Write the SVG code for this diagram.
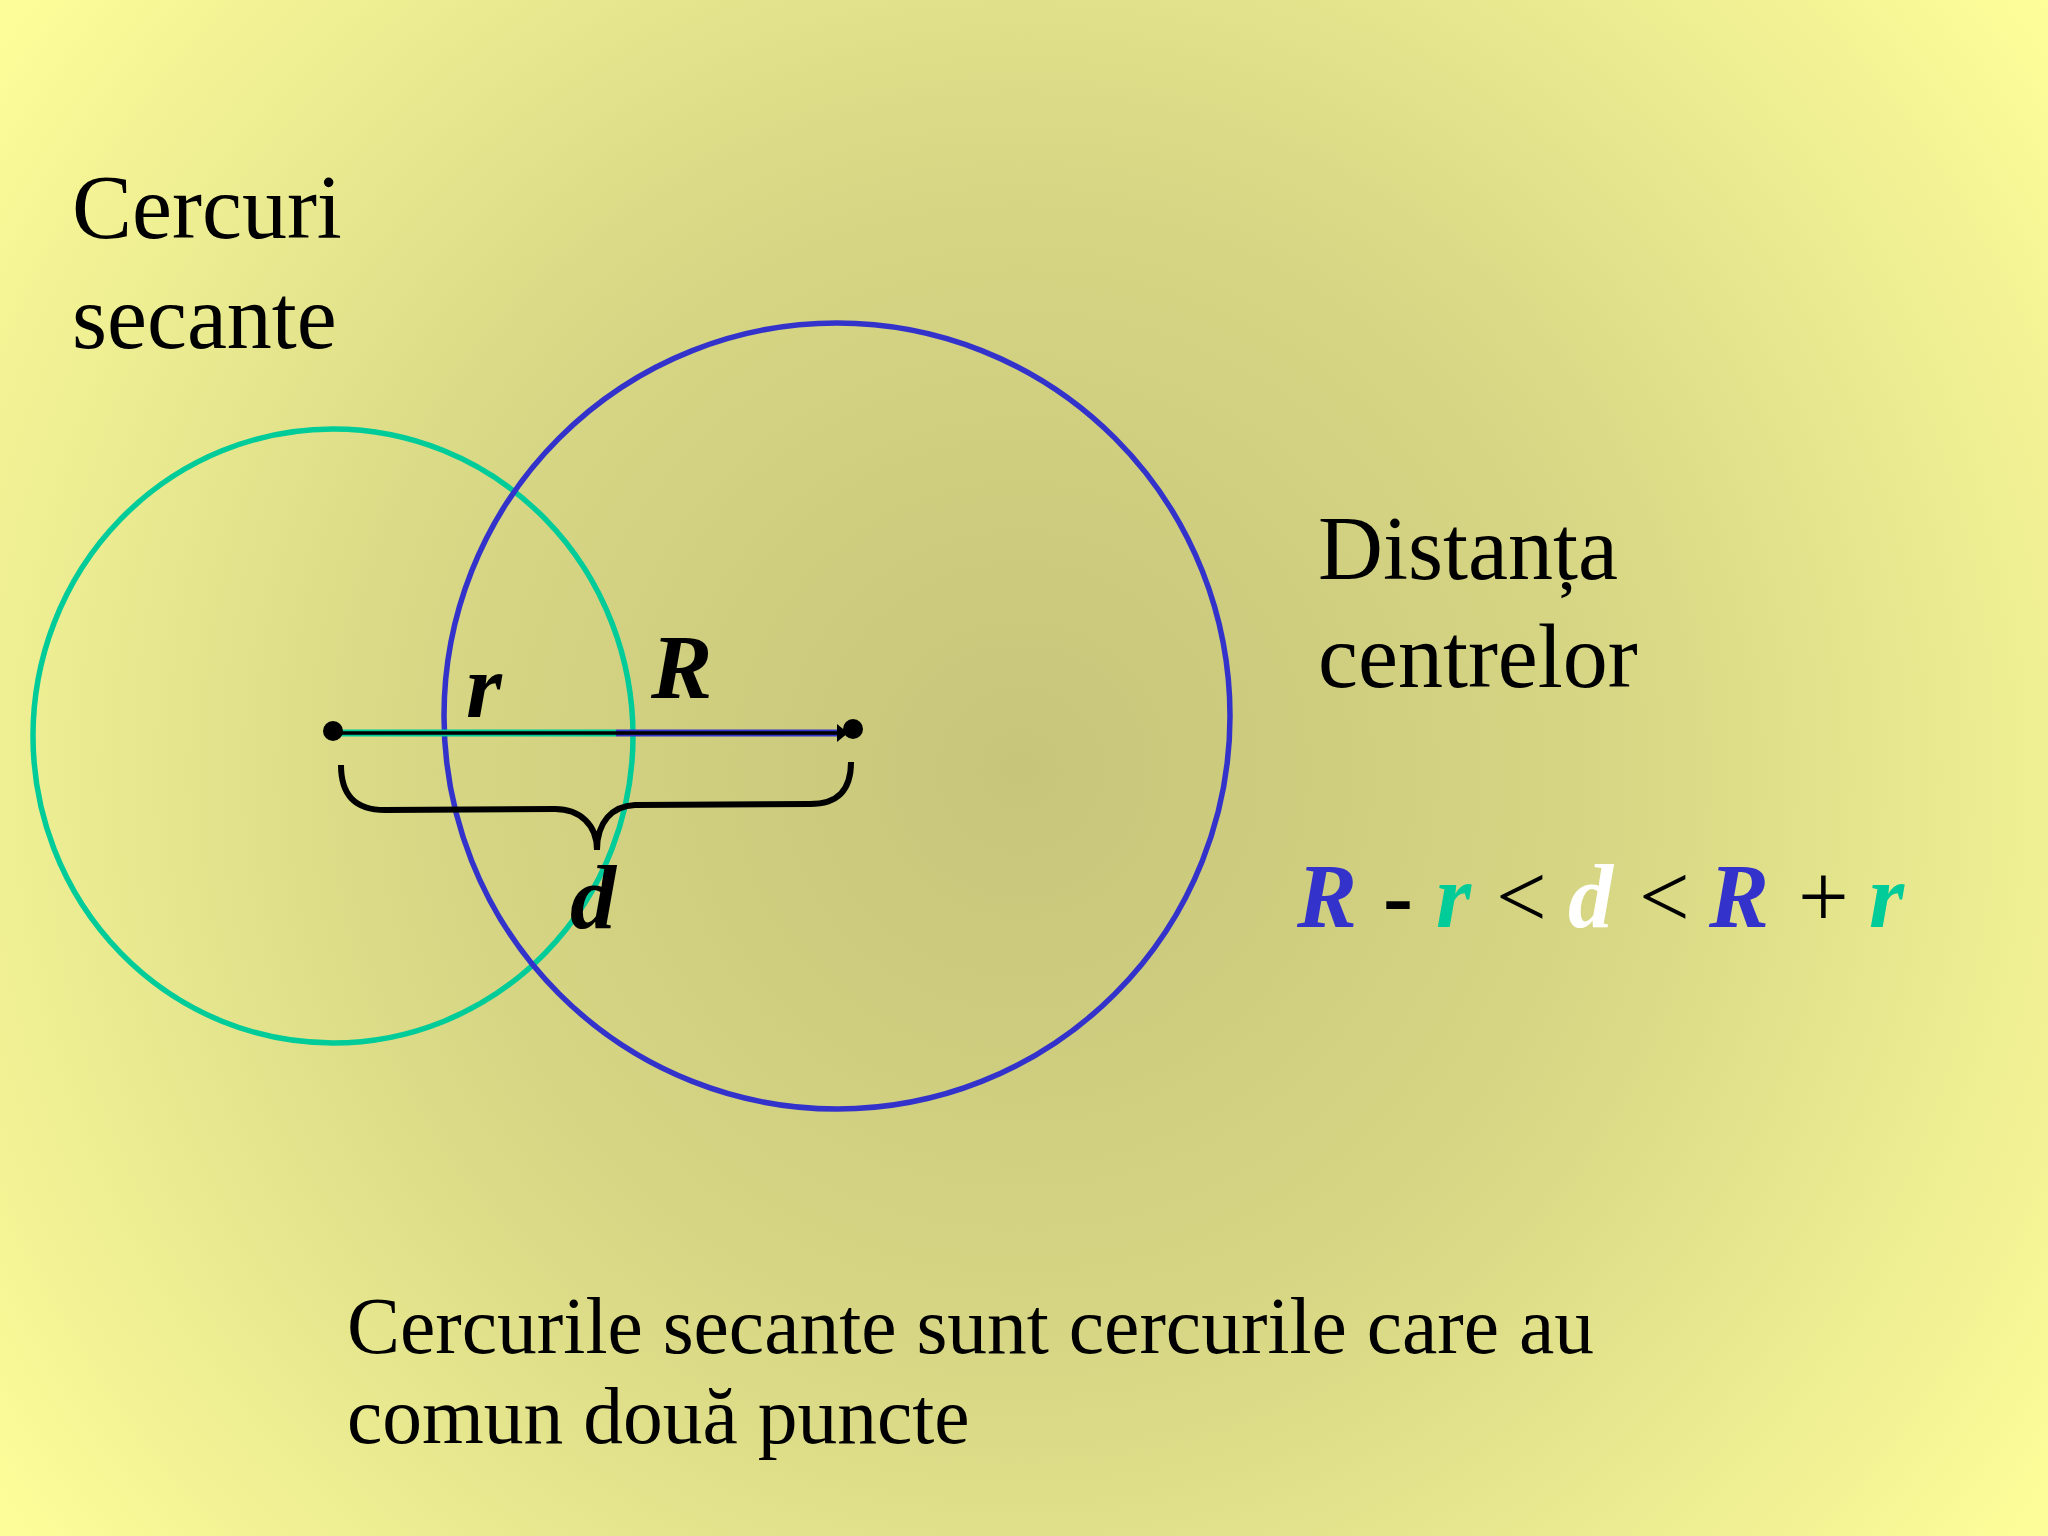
<svg xmlns="http://www.w3.org/2000/svg" width="2048" height="1536" viewBox="0 0 2048 1536">
  <defs>
    <radialGradient id="bg" gradientUnits="userSpaceOnUse" cx="1020" cy="770" r="1290">
      <stop offset="0" stop-color="#C7C57A"/>
      <stop offset="0.45" stop-color="#D6D684"/>
      <stop offset="0.75" stop-color="#ECEC92"/>
      <stop offset="1" stop-color="#FFFF9A"/>
    </radialGradient>
    <style>
      .t { font-family: "Liberation Serif", "Times New Roman", serif; fill: #000; }
      .bi { font-family: "Liberation Serif", "Times New Roman", serif; font-weight: bold; font-style: italic; }
      .circ { fill: none; stroke-width: 5.5; }
    </style>
  </defs>
  <rect x="0" y="0" width="2048" height="1536" fill="url(#bg)"/>

  <g id="title">
    <text class="t" x="72" y="238" font-size="90">Cercuri</text>
    <text class="t" x="72" y="348" font-size="90">secante</text>
  </g>

  <g id="small-circle">
    <ellipse class="circ" cx="333" cy="736" rx="300" ry="307" stroke="#00CC99"/>
  </g>
  <g id="big-circle">
    <circle class="circ" cx="837" cy="716" r="393" stroke="#3333CC"/>
  </g>

  <g id="connectors">
    <line x1="338" y1="733" x2="616" y2="733" stroke="#00CC99" stroke-width="7"/>
    <line x1="616" y1="733" x2="840" y2="733" stroke="#3333CC" stroke-width="7"/>
    <line x1="333" y1="733" x2="840" y2="733" stroke="#000" stroke-width="3.5"/>
    <polygon points="837,724 848,733 837,742" fill="#000"/>
    <circle cx="333" cy="731" r="10" fill="#000"/>
    <circle cx="853" cy="729" r="10" fill="#000"/>
    <path d="M 341 765 C 341 795, 355 810, 385 810 L 555 809 C 580 809, 597 825, 597 850 C 597 822, 612 806, 635 805 L 810 804 C 838 804, 851 790, 851 762" fill="none" stroke="#000" stroke-width="6"/>
  </g>

  <g id="labels">
    <text class="bi" x="466" y="717" font-size="92" fill="#000">r</text>
    <text class="bi" x="651" y="698" font-size="92" fill="#000">R</text>
    <text class="bi" x="570" y="928" font-size="92" fill="#000">d</text>
  </g>

  <g id="distance">
    <text class="t" x="1318" y="579" font-size="90">Distanța</text>
    <text class="t" x="1318" y="687" font-size="90">centrelor</text>
  </g>

  <g id="formula" font-size="90">
    <text class="bi" x="1297" y="927" fill="#3333CC">R</text>
    <text class="t" x="1383" y="927" font-weight="bold">-</text>
    <text class="bi" x="1436" y="927" fill="#00CC99">r</text>
    <text class="t" x="1496" y="927">&lt;</text>
    <text class="bi" x="1568" y="927" fill="#FFFFFF">d</text>
    <text class="t" x="1639" y="927">&lt;</text>
    <text class="bi" x="1709" y="927" fill="#3333CC">R</text>
    <text class="t" x="1798" y="927">+</text>
    <text class="bi" x="1869" y="927" fill="#00CC99">r</text>
  </g>

  <g id="definition">
    <text class="t" x="347" y="1353" font-size="79.5">Cercurile secante sunt cercurile care au</text>
    <text class="t" x="347" y="1443" font-size="79.5">comun două puncte</text>
  </g>
</svg>
